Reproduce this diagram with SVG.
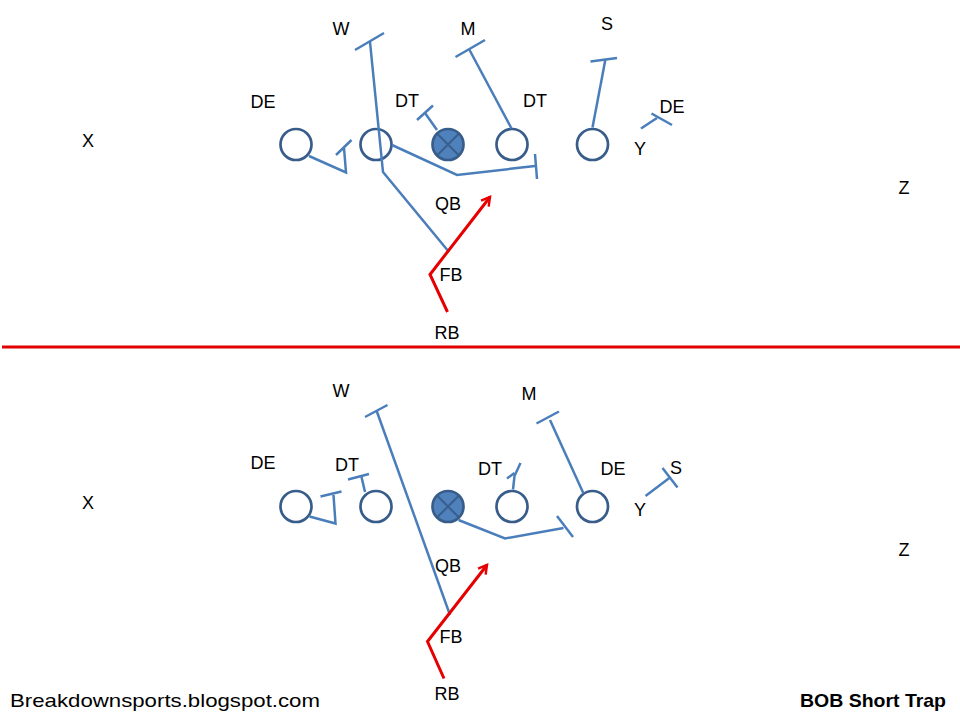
<svg xmlns="http://www.w3.org/2000/svg" width="960" height="720" viewBox="0 0 960 720">
<style>
.lbl{font-family:"Liberation Sans",Arial,sans-serif;font-size:18px;fill:#000;text-anchor:middle}
.ft{font-family:"Liberation Sans",Arial,sans-serif;font-size:19px;fill:#000}
.pl{fill:none;stroke:#385D8A;stroke-width:2.7}
.c{fill:#4F81BD;stroke:#385D8A;stroke-width:2.7}
.b{fill:none;stroke:#4A7EBB;stroke-width:2.5;stroke-linecap:butt;stroke-linejoin:miter}
.r{fill:none;stroke:#E60000;stroke-width:3}
</style>
<defs>
<marker id="arr" viewBox="0 0 10 10" refX="8" refY="5" markerWidth="4" markerHeight="4" orient="auto" markerUnits="strokeWidth">
<path d="M1,1 L8,5 L1,9" fill="none" stroke="#E60000" stroke-width="2"/>
</marker>
</defs>
<rect width="960" height="720" fill="#fff"/>

<line x1="2" y1="347" x2="960" y2="347" stroke="#E00000" stroke-width="3"/>

<g id="top-de-left"><circle class="pl" cx="296" cy="144.5" r="15.5"/></g>
<g id="top-dt-left"><circle class="pl" cx="376" cy="144.5" r="15.5"/></g>
<g id="top-center"><circle class="c" cx="448" cy="144.5" r="15.5"/>
<line x1="437" y1="133.5" x2="459" y2="155.5" stroke="#385D8A" stroke-width="2"/>
<line x1="459" y1="133.5" x2="437" y2="155.5" stroke="#385D8A" stroke-width="2"/></g>
<g id="top-dt-right"><circle class="pl" cx="512" cy="144.5" r="15.5"/></g>
<g id="top-y"><circle class="pl" cx="592.5" cy="144.5" r="15.5"/></g>

<g id="bot-de-left"><circle class="pl" cx="296" cy="506.5" r="15.5"/></g>
<g id="bot-dt-left"><circle class="pl" cx="376" cy="506.5" r="15.5"/></g>
<g id="bot-center"><circle class="c" cx="448" cy="506.5" r="15.5"/>
<line x1="437" y1="495.5" x2="459" y2="517.5" stroke="#385D8A" stroke-width="2"/>
<line x1="459" y1="495.5" x2="437" y2="517.5" stroke="#385D8A" stroke-width="2"/></g>
<g id="bot-dt-right"><circle class="pl" cx="512" cy="506.5" r="15.5"/></g>
<g id="bot-de-right"><circle class="pl" cx="592.5" cy="506.5" r="15.5"/></g>

<g id="connectors">
<!-- top -->
<polyline class="b" points="309,156 346,172.5 344,148"/>
<line class="b" x1="336" y1="155" x2="351.5" y2="140"/>
<polyline class="b" points="370,42 383,172 449,252"/>
<line class="b" x1="355" y1="50" x2="384" y2="33"/>
<line class="b" x1="437" y1="130" x2="425" y2="113"/>
<line class="b" x1="417" y1="120" x2="433" y2="105.5"/>
<line class="b" x1="511.5" y1="128.5" x2="469" y2="49"/>
<line class="b" x1="455.5" y1="57" x2="485" y2="40"/>
<polyline class="b" points="392,145 457,175 535,166"/>
<line class="b" x1="535" y1="154" x2="537" y2="179"/>
<line class="b" x1="592.5" y1="127.5" x2="605.5" y2="59"/>
<line class="b" x1="590.5" y1="61.5" x2="617" y2="58"/>
<line class="b" x1="641" y1="128.5" x2="657" y2="118"/>
<line class="b" x1="651.5" y1="113.5" x2="672" y2="125"/>
<polyline class="r" points="447.5,312 430,274.5 490,197" marker-end="url(#arr)"/>
<!-- bottom -->
<polyline class="b" points="309.5,516.5 335.5,523.5 333.5,495"/>
<line class="b" x1="320.5" y1="496.5" x2="341.5" y2="491.5"/>
<line class="b" x1="365" y1="492" x2="361.5" y2="477"/>
<line class="b" x1="348" y1="479.5" x2="369" y2="474"/>
<line class="b" x1="376.5" y1="410.5" x2="450" y2="615"/>
<line class="b" x1="365" y1="417" x2="387.5" y2="405"/>
<polyline class="b" points="458.5,520 505,538.5 563.5,528"/>
<line class="b" x1="557" y1="516" x2="573" y2="537"/>
<polyline class="b" points="513,489.5 514.5,476 520.5,463"/>
<line class="b" x1="507" y1="478.5" x2="514.5" y2="473"/>
<line class="b" x1="583.5" y1="493.5" x2="550" y2="420"/>
<line class="b" x1="536.5" y1="423.5" x2="559" y2="411.5"/>
<line class="b" x1="645.5" y1="496" x2="670" y2="477.5"/>
<line class="b" x1="662.5" y1="468" x2="677.5" y2="487.5"/>
<polyline class="r" points="444,678.5 427.5,641.5 487,565" marker-end="url(#arr)"/>
</g>

<g id="labels-top">
<text class="lbl" x="341" y="35">W</text>
<text class="lbl" x="468" y="35">M</text>
<text class="lbl" x="607" y="30">S</text>
<text class="lbl" x="263" y="108">DE</text>
<text class="lbl" x="407" y="107">DT</text>
<text class="lbl" x="535" y="107">DT</text>
<text class="lbl" x="672" y="113">DE</text>
<text class="lbl" x="640" y="155">Y</text>
<text class="lbl" x="88" y="147">X</text>
<text class="lbl" x="904" y="194">Z</text>
<text class="lbl" x="448" y="210">QB</text>
<text class="lbl" x="451" y="281">FB</text>
<text class="lbl" x="447" y="339">RB</text>
</g>
<g id="labels-bottom">
<text class="lbl" x="341" y="397">W</text>
<text class="lbl" x="529" y="400">M</text>
<text class="lbl" x="263" y="469">DE</text>
<text class="lbl" x="347" y="471">DT</text>
<text class="lbl" x="490" y="475">DT</text>
<text class="lbl" x="613" y="475">DE</text>
<text class="lbl" x="676" y="474">S</text>
<text class="lbl" x="640" y="516">Y</text>
<text class="lbl" x="88" y="509">X</text>
<text class="lbl" x="904" y="556">Z</text>
<text class="lbl" x="448" y="572">QB</text>
<text class="lbl" x="451" y="643">FB</text>
<text class="lbl" x="447" y="700">RB</text>
</g>
<g id="footer">
<text class="ft" x="10" y="707" textLength="310" lengthAdjust="spacingAndGlyphs">Breakdownsports.blogspot.com</text>
<text class="ft" x="946" y="707" text-anchor="end" font-weight="bold" textLength="146" lengthAdjust="spacingAndGlyphs">BOB Short Trap</text>
</g>
</svg>
